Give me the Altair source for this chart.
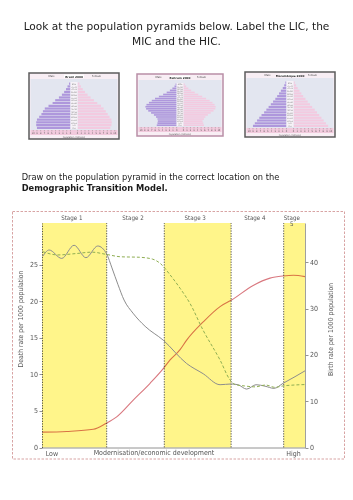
import altair as alt
import pandas as pd

# ---------------- worksheet text ----------------
heading_lines = ["Look at the population pyramids below. Label the LIC, the",
                 "MIC and the HIC."]
task_line = "Draw on the population pyramid in the correct location on the"
task_bold = "Demographic Transition Model."

# ---------------- population pyramids ----------------
pyr_titles = ["Brazil 2000", "Bahrain 2000", "Mozambique 2000"]
sex_labels = ["Male", "Female"]
pyr_axis_title = "Population (millions)"
ages17 = ["0-4", "5-9", "10-14", "15-19", "20-24", "25-29", "30-34", "35-39", "40-44",
          "45-49", "50-54", "55-59", "60-64", "65-69", "70-74", "75-79", "80+"]
ages21 = ages17[:-1] + ["80-84", "85-89", "90-94", "95-99", "100+"]
pyr_ticks = list(range(0, 11))

brazil_male = [9.0, 9.2, 9.2, 9.0, 8.4, 7.8, 7.4, 6.9, 5.9, 4.8, 4.1, 3.1, 2.3, 1.7, 1.2, 0.8, 0.4]
brazil_female = [8.8, 9.1, 9.2, 9.1, 8.6, 8.1, 7.6, 7.0, 6.3, 5.3, 4.4, 3.5, 2.7, 2.0, 1.4, 0.9, 0.5]
bahrain_male = [5.6, 5.4, 5.3, 5.4, 5.8, 6.4, 7.2, 8.0, 8.6, 8.8, 8.5, 7.8, 7.0, 6.1, 5.0, 3.8,
                2.8, 1.9, 1.2, 0.6, 0.3]
bahrain_female = [5.8, 5.6, 5.4, 5.8, 6.2, 6.9, 7.7, 8.5, 9.0, 9.1, 8.8, 8.2, 7.4, 6.4, 5.3, 4.2,
                  3.2, 2.2, 1.4, 0.8, 0.4]
moz_male = [9.0, 8.5, 7.9, 7.3, 6.7, 6.0, 5.4, 4.8, 4.2, 3.6, 3.0, 2.5, 2.0, 1.5, 1.0, 0.6, 0.3]
moz_female = [9.3, 8.7, 8.1, 7.5, 6.9, 6.3, 5.7, 5.0, 4.4, 3.8, 3.2, 2.6, 2.1, 1.6, 1.1, 0.7, 0.35]

# ---------------- demographic transition model ----------------
stage_names = ["Stage 1", "Stage 2", "Stage 3", "Stage 4", "Stage 5"]
stage_bounds = [0, 24.6, 46.5, 71.9, 91.9, 100]
stage_shaded = [True, False, True, False, True]
dev_labels = ["Low", "High"]
dev_title = "Modernisation/economic development"
death_title = "Death rate per 1000 population"
birth_title = "Birth rate per 1000 population"
left_ticks = [0, 5, 10, 15, 20, 25]
right_ticks = [0, 10, 20, 30, 40]

death_x = [0.3, 2.7, 7.5, 12.2, 16.7, 21.2, 24.6, 26.6, 28.9, 31.2, 34.6, 39.2, 46.1, 55.0,
           61.3, 67.7, 71.9, 74.5, 77.8, 81.4, 84.8, 88.2, 91.7, 96.2, 100]
death_rate = [26.2, 27.05, 25.9, 27.7, 26.0, 27.6, 26.5, 24.6, 22.3, 20.2, 18.4, 16.6, 14.7, 11.5,
              10.1, 8.6, 8.7, 8.6, 8.0, 8.6, 8.4, 8.1, 8.8, 9.7, 10.5]

birth_x = [0.3, 6, 13, 19, 24.6, 30, 37, 42, 44.9, 48.7, 52.5, 56.3, 61.2, 67.7, 71.5, 73.4,
           77, 81, 85, 88.6, 91.6, 96, 100]
birth_rate = [42.3, 41.6, 41.9, 42.2, 41.7, 41.2, 41.1, 40.7, 39.8, 37.3, 34.4, 31.1, 25.4, 18.9,
              14.6, 13.6, 13.3, 13.1, 13.5, 13.0, 13.3, 13.5, 13.6]

pop_x = [0, 9.4, 19.5, 24.3, 28.4, 34.7, 41.1, 46.1, 48.7, 52.5, 55.0, 61.3, 67.7, 72.1, 80.3,
         86.7, 91.7, 95.6, 100]
pop_size = [2.1, 2.2, 2.5, 3.3, 4.2, 6.5, 8.8, 10.8, 12.0, 13.4, 14.7, 17.2, 19.3, 20.2, 22.2,
            23.2, 23.5, 23.6, 23.4]

LEFT_MAX = 30.75
RIGHT_MAX = 48.5

FONT = "DejaVu Sans"
NARROW = "Liberation Sans Narrow, DejaVu Sans Condensed, Liberation Sans, sans-serif"
ONE = pd.DataFrame({"k": [0]})


def rect_px(x0, y0, x1, y1, **mark):
    return alt.Chart(ONE).mark_rect(**mark).encode(
        x=alt.value(x0), x2=alt.value(x1), y=alt.value(y0), y2=alt.value(y1))


def text_px(s, x, y, **mark):
    return alt.Chart(pd.DataFrame({"t": [s]})).mark_text(**mark).encode(
        x=alt.value(x), y=alt.value(y), text="t:N")


def pyramid(box, title, ages, male, female, edge):
    x0, y0, x1, y1 = box
    n = len(ages)
    gap = 0.95
    top = 10.6
    sx = alt.Scale(domain=[-(top + gap), top + gap], range=[x0 + 2, x1 - 2], nice=False, zero=False)
    strip = y1 - 9
    sy = alt.Scale(domain=[0, n], range=[strip - 1, y0 + 9], nice=False, zero=False)
    w = x1 - x0
    bars = pd.DataFrame({"age": ages * 2, "i": list(range(n)) * 2,
                         "sex": ["Male"] * n + ["Female"] * n,
                         "v": list(male) + list(female)})
    frame = rect_px(x0, y0, x1, y1, fill="#f8eef4", stroke=edge, strokeWidth=1.5)
    plotbg = rect_px(x0 + 1.5, y0 + 6, x1 - 1.5, strip, fill="#e3e6f0")
    base = alt.Chart(bars).transform_calculate(
        a=f"datum.sex == 'Male' ? -({gap} + datum.v) : {gap}",
        b=f"datum.sex == 'Male' ? -{gap} : {gap} + datum.v",
        i2="datum.i + 0.8",
        ic="datum.i + 0.4")
    barl = base.mark_rect().encode(
        x=alt.X("a:Q", scale=sx, axis=None), x2="b:Q",
        y=alt.Y("i:Q", scale=sy, axis=None), y2="i2:Q",
        color=alt.Color("sex:N", scale=alt.Scale(domain=["Male", "Female"],
                                                  range=["#ae97dc", "#f3cae0"]), legend=None))
    mid = alt.Chart(ONE).mark_rect(color="#f6f2f7").encode(
        x=alt.XDatum(-gap, scale=sx, axis=None), x2=alt.X2Datum(gap),
        y=alt.YDatum(0, scale=sy, axis=None), y2=alt.Y2Datum(n))
    agel = base.transform_filter("datum.sex == 'Male'").mark_text(
        fontSize=1.9, color="#666", font=FONT).encode(
        x=alt.XDatum(0, scale=sx, axis=None),
        y=alt.Y("ic:Q", scale=sy, axis=None), text="age:N")
    stripr = rect_px(x0 + 1.5, strip, x1 - 1.5, strip + 5, fill="#f2cadd")
    tk = pd.DataFrame({"k": pyr_ticks * 2, "side": [-1] * len(pyr_ticks) + [1] * len(pyr_ticks)})
    tbase = alt.Chart(tk).transform_calculate(p=f"datum.side * ({gap} + datum.k)")
    ticks = tbase.mark_rule(color="#777", strokeWidth=0.4).encode(
        x=alt.X("p:Q", scale=sx, axis=None), y=alt.value(strip), y2=alt.value(strip + 1.4))
    tlab = tbase.mark_text(fontSize=2.3, color="#555", font=FONT).encode(
        x=alt.X("p:Q", scale=sx, axis=None), y=alt.value(strip + 3.2), text="k:N")
    cx = (x0 + x1) / 2
    head_m = text_px(sex_labels[0], x0 + 0.25 * w, y0 + 3.2, fontSize=2.6, color="#444", font=FONT)
    head_f = text_px(sex_labels[1], x0 + 0.75 * w, y0 + 3.2, fontSize=2.6, color="#444", font=FONT)
    head_box = rect_px(cx - 10, y0 + 1.6, cx + 10, y0 + 5, fill="#ffffff")
    head_t = text_px(title, cx, y0 + 3.3, fontSize=2.8, color="#222", font=FONT, fontWeight="bold")
    foot = text_px(pyr_axis_title, cx, strip + 6.8, fontSize=2.2, color="#555", font=FONT)
    return alt.layer(frame, plotbg, barl, mid, agel, stripr, ticks, tlab,
                     head_box, head_m, head_f, head_t, foot)


p1 = pyramid((29, 73, 119, 139), pyr_titles[0], ages17, brazil_male, brazil_female, "#5c5c5c")
p2 = pyramid((137, 74, 223, 136), pyr_titles[1], ages21, bahrain_male, bahrain_female, "#b98fa6")
p3 = pyramid((245, 72, 335, 137), pyr_titles[2], ages17, moz_male, moz_female, "#5c5c5c")

# ---------------- DTM ----------------
def sxd():
    return alt.Scale(domain=[0, 100], range=[42, 305], nice=False, zero=False)


def syl():
    return alt.Scale(domain=[0, LEFT_MAX], range=[447.5, 223], nice=False, zero=False)


syr = alt.Scale(domain=[0, RIGHT_MAX], range=[447.5, 223], nice=False, zero=False)

stages = pd.DataFrame({"name": stage_names, "s": stage_bounds[:-1], "e": stage_bounds[1:],
                       "shade": stage_shaded})

x_axis = alt.Axis(
    orient="bottom", offset=-52.5, values=[1.2, 98.2],
    labelExpr=f"datum.value < 50 ? '{dev_labels[0]}' : '{dev_labels[1]}'",
    labelFlush=6, ticks=False, labelPadding=1.5, labelFont=NARROW, labelFontSize=7,
    labelColor="#555", domainColor="#777", domainWidth=0.8, grid=False,
    title=dev_title, titleFont=NARROW, titleFontSize=7, titleFontWeight="normal",
    titleColor="#555", titleX=153.5, titleY=5, titleBaseline="middle", titleAlign="center",
    zindex=1)

left_axis = alt.Axis(
    orient="left", offset=-42, values=left_ticks, tickSize=3, tickColor="#666", tickWidth=0.7,
    labelPadding=1.5, labelFont=NARROW, labelFontSize=7, labelColor="#555",
    domainColor="#444", domainDash=[1.3, 1.3], domainWidth=0.9, grid=False,
    title=death_title, titleFont=NARROW, titleFontSize=6.8, titleFontWeight="normal",
    titleColor="#555", titleAngle=270, titleX=-22, titleY=318.5, titleAlign="center",
    titleBaseline="middle", zindex=1)

right_axis = alt.Axis(
    orient="right", offset=-48, values=right_ticks, tickSize=3, tickColor="#666", tickWidth=0.7,
    labelPadding=1.5, labelFont=NARROW, labelFontSize=7, labelColor="#555",
    domainColor="#888", domainWidth=0.8, grid=False,
    title=birth_title, titleFont=NARROW, titleFontSize=6.8, titleFontWeight="normal",
    titleColor="#555", titleAngle=270, titleX=25, titleY=329, titleAlign="center",
    titleBaseline="middle", zindex=1)

bands = alt.Chart(stages).transform_filter("datum.shade").mark_rect(color="#fff58a").encode(
    x=alt.X("s:Q", scale=sxd(), axis=None), x2="e:Q",
    y=alt.YDatum(0, scale=syl(), axis=None), y2=alt.Y2Datum(LEFT_MAX))

dividers = alt.Chart(pd.DataFrame({"b": stage_bounds[1:-1]})).mark_rule(
    color="#4a4a4a", strokeDash=[1.3, 1.3], strokeWidth=0.9).encode(
    x=alt.X("b:Q", scale=sxd(), axis=None),
    y=alt.YDatum(0, scale=syl(), axis=None), y2=alt.Y2Datum(LEFT_MAX))

stage_lbl = alt.Chart(stages).transform_calculate(
    mid="(datum.s + datum.e) / 2",
    lbl="datum.e - datum.s < 15 ? split(datum.name, ' ') : datum.name"
).mark_text(font=NARROW, fontSize=6.2, color="#555", baseline="alphabetic", lineHeight=6.8,
            dx=-2.5).encode(
    x=alt.X("mid:Q", scale=sxd(), axis=None), y=alt.value(219.6), text="lbl:N")

pop_line = alt.Chart(pd.DataFrame({"x": pop_x, "v": pop_size})).mark_line(
    color="#d9787f", strokeWidth=1.1, interpolate="monotone", blend="multiply").encode(
    x=alt.X("x:Q", scale=sxd(), axis=None), y=alt.Y("v:Q", scale=syl(), axis=None))

# death-rate line carries the left and bottom axes
death_line = alt.Chart(pd.DataFrame({"x": death_x, "v": death_rate})).mark_line(
    color="#8d8d8d", strokeWidth=1, interpolate="monotone").encode(
    x=alt.X("x:Q", scale=sxd(), axis=x_axis), y=alt.Y("v:Q", scale=syl(), axis=left_axis))

birth_line = alt.Chart(pd.DataFrame({"x": birth_x, "b": birth_rate})).mark_line(
    color="#8fae52", strokeWidth=1, strokeDash=[3, 2], interpolate="monotone").encode(
    x=alt.X("x:Q", scale=sxd(), axis=None), y=alt.Y("b:Q", scale=syr, axis=right_axis))

dtm_frame = rect_px(12.5, 211.5, 344.5, 459, fillOpacity=0, stroke="#d49a9a",
                    strokeDash=[2.5, 1.5], strokeWidth=0.9)

# ---------------- text layers ----------------
h1 = text_px(heading_lines[0], 176.5, 27.3, fontSize=10.6, font=FONT, color="#1a1a1a",
             align="center", baseline="middle")
h2 = text_px(heading_lines[1], 176.5, 42.3, fontSize=10.6, font=FONT, color="#1a1a1a",
             align="center", baseline="middle")
t1 = text_px(task_line, 21.7, 178.3, fontSize=8.3, font=FONT, color="#1a1a1a",
             align="left", baseline="middle")
t2 = text_px(task_bold, 21.7, 189, fontSize=8.3, font=FONT, color="#1a1a1a",
             align="left", baseline="middle", fontWeight="bold")

chart = alt.layer(
    h1, h2, p1, p2, p3, t1, t2, dtm_frame,
    bands, dividers, pop_line, death_line, birth_line, stage_lbl
).resolve_scale(x="independent", y="independent").properties(
    width=353, height=500, padding=0, background="white",
    autosize=alt.AutoSizeParams(type="none")
).configure_view(strokeWidth=0)

chart.save("out.html", embed_options={"renderer": "svg", "actions": False})
